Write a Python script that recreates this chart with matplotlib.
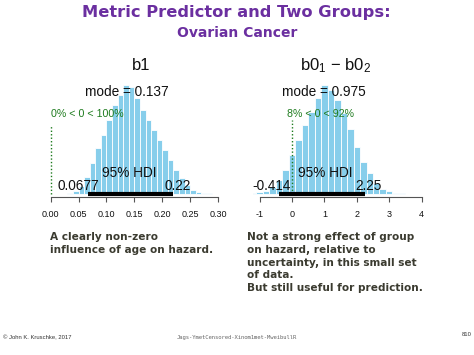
import matplotlib
matplotlib.use("Agg")
import matplotlib.pyplot as plt
import numpy as np

plt.rcParams['font.family'] = ['Liberation Sans', 'DejaVu Sans']
plt.rcParams['mathtext.default'] = 'regular'

# ---------------- data ----------------
b1_centers = [0.035, 0.045, 0.055, 0.065, 0.075, 0.085, 0.095, 0.105, 0.115, 0.125,
              0.135, 0.145, 0.155, 0.165, 0.175, 0.185, 0.195, 0.205, 0.215, 0.225,
              0.235, 0.245, 0.255, 0.265, 0.275, 0.285]
b1_heights = [0.01, 0.03, 0.07, 0.16, 0.28, 0.42, 0.54, 0.68, 0.82, 0.91,
              1.00, 0.98, 0.88, 0.77, 0.68, 0.59, 0.50, 0.40, 0.31, 0.22,
              0.15, 0.08, 0.04, 0.02, 0.01, 0.005]
b1_binw = 0.01
b1_mode = 0.137
b1_hdi = [0.0677, 0.22]
b1_ticks = [0.00, 0.05, 0.10, 0.15, 0.20, 0.25, 0.30]
b1_ticklabels = ['0.00', '0.05', '0.10', '0.15', '0.20', '0.25', '0.30']
b1_comp = "0% < 0 < 100%"

d_centers = [-1.2, -1.0, -0.8, -0.6, -0.4, -0.2, 0.0, 0.2, 0.4, 0.6, 0.8, 1.0,
             1.2, 1.4, 1.6, 1.8, 2.0, 2.2, 2.4, 2.6, 2.8, 3.0, 3.2, 3.4]
d_heights = [0.005, 0.015, 0.03, 0.06, 0.13, 0.22, 0.36, 0.50, 0.63, 0.75, 0.88, 1.00,
             0.95, 0.86, 0.74, 0.60, 0.43, 0.29, 0.19, 0.10, 0.05, 0.025, 0.01, 0.005]
d_binw = 0.2
d_mode = 0.975
d_hdi = [-0.414, 2.25]
d_ticks = [-1, 0, 1, 2, 3, 4]
d_ticklabels = ['-1', '0', '1', '2', '3', '4']
d_comp = "8% < 0 < 92%"

# ---------------- figure ----------------
W, H = 474, 355
fig = plt.figure(figsize=(W / 100, H / 100), dpi=100)
fig.patch.set_facecolor('white')

def px_axes(left, top, right, bottom):
    return fig.add_axes([left / W, 1 - bottom / H, (right - left) / W, (bottom - top) / H])

base_px = 194.0
unit_px = 109.0
ax_bottom_px = 197.0
ax_top_px = 75.0
ylo = -(ax_bottom_px - base_px) / unit_px
yhi = (base_px - ax_top_px) / unit_px

def ydat(py):
    return (base_px - py) / unit_px

purple = '#6B2FA0'
green = '#1E7B1E'
txtcol = '#3b3b30'
barcol = '#87CEEB'

def panel(ax, centers, heights, binw, xlim, ticks, ticklabels, hdi):
    ax.bar(centers, heights, width=binw, color=barcol, edgecolor='white', linewidth=0.6, zorder=1)
    ax.set_xlim(*xlim)
    ax.set_ylim(ylo, yhi)
    for s in ['top', 'right', 'left']:
        ax.spines[s].set_visible(False)
    ax.spines['bottom'].set_bounds(ticks[0], ticks[-1])
    ax.spines['bottom'].set_color('#555555')
    ax.spines['bottom'].set_linewidth(0.8)
    ax.set_yticks([])
    ax.set_xticks(ticks)
    ax.set_xticklabels(ticklabels)
    ax.tick_params(axis='x', direction='out', length=3.8, width=0.8, color='#555555',
                   labelsize=6.5, pad=5.5, labelcolor='#111111')
    ax.plot(hdi, [0, 0], color='black', lw=3.0, solid_capstyle='butt', zorder=3)
    ax.patch.set_alpha(0)

# left panel
x0L, kL = 50.7, 557.7
xlimL = (-0.015, 0.315)
axL = px_axes(x0L + xlimL[0] * kL, ax_top_px, x0L + xlimL[1] * kL, ax_bottom_px)
panel(axL, b1_centers, b1_heights, b1_binw, xlimL, b1_ticks, b1_ticklabels, b1_hdi)
axL.plot([0, 0], [0.0, ydat(125)], color=green, lw=1.0, ls=(0, (1, 1.5)), zorder=2)
axL.text(0.0, ydat(114), b1_comp, color=green, fontsize=7.7, ha='left', va='center')
axL.text(b1_mode, ydat(91.5), "mode = 0.137", fontsize=9.8, ha='center', va='center', color='#111111')
axL.text(0.140, ydat(173), "95% HDI", fontsize=9.8, ha='center', va='center', color='#111111')
axL.text(0.0677 + 0.02, ydat(186), "0.0677", fontsize=9.8, ha='right', va='center', color='#111111')
axL.text(0.204, ydat(186), "0.22", fontsize=9.8, ha='left', va='center', color='#111111')

# right panel
x0R, kR = 292.0, 32.4
xlimR = (-1.2, 4.2)
axR = px_axes(x0R + xlimR[0] * kR, ax_top_px, x0R + xlimR[1] * kR, ax_bottom_px)
panel(axR, d_centers, d_heights, d_binw, xlimR, d_ticks, d_ticklabels, d_hdi)
axR.plot([0, 0], [0.0, ydat(120)], color=green, lw=1.0, ls=(0, (1, 1.5)), zorder=2)
axR.text(-0.164, ydat(114), d_comp, color=green, fontsize=7.7, ha='left', va='center')
axR.text(d_mode, ydat(91.5), "mode = 0.975", fontsize=9.8, ha='center', va='center', color='#111111')
axR.text(1.02, ydat(173), "95% HDI", fontsize=9.8, ha='center', va='center', color='#111111')
axR.text(-0.05, ydat(186), "-0.414", fontsize=9.8, ha='right', va='center', color='#111111')
axR.text(1.97, ydat(186), "2.25", fontsize=9.8, ha='left', va='center', color='#111111')

# panel titles
fig.text(140.8 / W, 1 - 66 / H, "b1", fontsize=12, ha='center', va='center', color='#111111')
fig.text(335.5 / W, 1 - 66 / H, r"b0$_1$ $-$ b0$_2$", fontsize=12, ha='center', va='center', color='#111111')

# slide title
fig.text(236.7 / W, 1 - 13 / H, "Metric Predictor and Two Groups:", family='DejaVu Sans',
         fontweight='bold', fontsize=11.7, color=purple, ha='center', va='center')
fig.text(236.7 / W, 1 - 33 / H, "Ovarian Cancer", family='DejaVu Sans',
         fontweight='bold', fontsize=10.0, color=purple, ha='center', va='center')

# annotations
fig.text(50 / W, 1 - 232 / H, "A clearly non-zero\ninfluence of age on hazard.", family='DejaVu Sans',
         fontweight='bold', fontsize=7.6, color=txtcol, ha='left', va='top', linespacing=1.35)
fig.text(246.7 / W, 1 - 232 / H,
         "Not a strong effect of group\non hazard, relative to\nuncertainty, in this small set\nof data.\nBut still useful for prediction.",
         family='DejaVu Sans', fontweight='bold', fontsize=7.6, color=txtcol, ha='left', va='top',
         linespacing=1.35)

# footer
fig.text(3 / W, 1 - 338 / H, "\u00a9 John K. Kruschke, 2017", fontsize=4.2, color='#333333',
         ha='left', va='center')
fig.text(236.7 / W, 1 - 338 / H, "Jags-YmetCensored-Xinom1met-MweibullR", family='DejaVu Sans Mono',
         fontsize=4.0, color='#666666', ha='center', va='center')
fig.text(472 / W, 1 - 334 / H, "810", fontsize=4.2, color='#333333', ha='right', va='center')

fig.savefig('out.png', dpi=100, facecolor='white')
